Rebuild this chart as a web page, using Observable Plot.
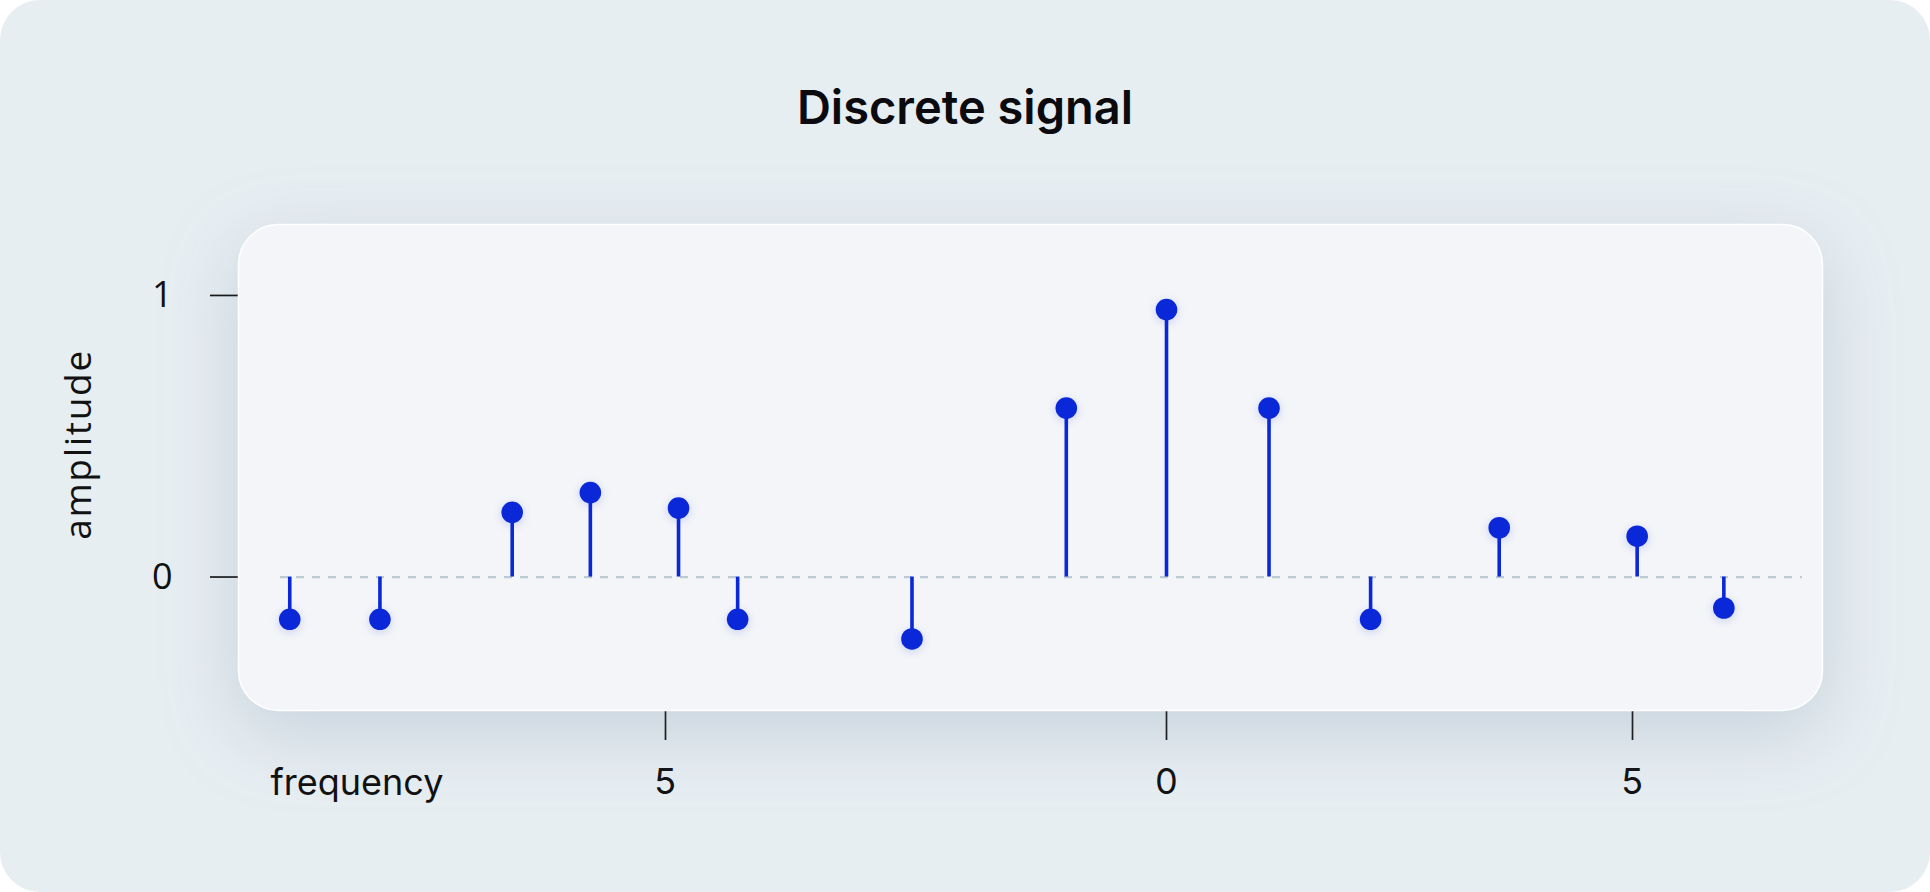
<!DOCTYPE html>
<html>
<head>
<meta charset="utf-8">
<script src="https://cdn.jsdelivr.net/npm/d3@7"></script>
<script src="https://cdn.jsdelivr.net/npm/@observablehq/plot@0.6"></script>
<style>
  html, body { margin: 0; padding: 0; background: #ffffff; }
  #card {
    position: relative; width: 1930px; height: 892px; border-radius: 40px;
    background: #e7eef2; overflow: hidden;
  }
  #title {
    position: absolute; left: 0; top: 83px; width: 1930px; text-align: center;
    font-family: Inter, sans-serif; font-weight: 600; font-size: 47px; line-height: 47px; color: #0b0b0f;
  }
  #chart { position: absolute; left: 0; top: 0; }
  #chart svg text { fill: #111; }
  #chart [aria-label^="x-axis"] text { font-family: Inter, sans-serif; font-size: 36px; }
  #chart [aria-label^="y-axis"] text { font-family: "Open Sans", sans-serif; font-size: 36px; }
</style>
</head>
<body>
<div id="card">
  <div id="title">Discrete signal</div>
  <div id="chart"></div>
</div>
<script>
// data
const frequency = [-8.75, -7.85, -6.53, -5.75, -4.87, -4.28, -2.54, -1.0, 0, 1.1, 2.19, 3.57, 5.05, 5.98];
const amplitude = [-0.15, -0.15, 0.23, 0.30, 0.245, -0.15, -0.22, 0.60, 0.95, 0.60, -0.15, 0.175, 0.145, -0.11];
const xTicks = [-5, 0, 5];
const xTickLabels = ["5", "0", "5"];
const yTicks = [0, 1];
const yTickLabels = ["0", "1"];

const data = frequency.map((f, i) => ({frequency: f, amplitude: amplitude[i]}));

const plot = Plot.plot({
  width: 1930,
  height: 892,
  marginLeft: 238,
  marginRight: 108,
  marginTop: 224,
  marginBottom: 182,
  style: {background: "transparent", fontFamily: "Inter, sans-serif", fontSize: "36px", overflow: "visible"},
  x: {
    type: "linear",
    domain: [-5, 0, 5],
    range: [665, 1166, 1632],
    ticks: xTicks,
    tickFormat: d => xTickLabels[xTicks.indexOf(d)],
    tickSize: 30,
    tickPadding: 28,
    label: null
  },
  y: {
    domain: [-0.474, 1.252],
    ticks: yTicks,
    tickFormat: d => yTickLabels[yTicks.indexOf(d)],
    tickSize: 28,
    tickPadding: 38,
    label: null
  },
  marks: [
    Plot.frame({fill: "#f3f5f8", stroke: "#ffffff", strokeWidth: 1.5, rx: 40, ry: 40}),
    Plot.ruleY([0], {stroke: "#bccad2", strokeWidth: 2.2, strokeDasharray: "8,8", insetLeft: 42, insetRight: 20}),
    Plot.ruleX(data, {x: "frequency", y1: 0, y2: "amplitude", stroke: "#0a28d8", strokeWidth: 3.6}),
    Plot.dot(data, {x: "frequency", y: "amplitude", r: 10.8, fill: "#0a28d8", stroke: "none"}),
    Plot.text(["amplitude"], {frameAnchor: "left", text: d => d, rotate: -90, dx: -159, dy: -23,
      textAnchor: "middle", lineAnchor: "middle", fontFamily: "Open Sans", fontSize: 37}),
    Plot.text(["frequency"], {frameAnchor: "bottom-left", text: d => d, dx: 32, dy: 84,
      textAnchor: "start", lineAnchor: "bottom", fontFamily: "Inter", fontSize: 36})
  ]
});

document.getElementById("chart").appendChild(plot);

const svg = d3.select(plot);
svg.selectAll("rect").filter(function() {
    const g = this.parentNode;
    return g && g.getAttribute && (g.getAttribute("aria-label") === "frame" || this.getAttribute("aria-label") === "frame");
  })
  .attr("rx", 40).attr("ry", 40)
  .style("filter", "drop-shadow(0px 22px 36px rgba(110,130,160,0.26))");
svg.selectAll('[aria-label="frame"]').filter(function() { return this.tagName === "rect"; })
  .attr("rx", 40).attr("ry", 40)
  .style("filter", "drop-shadow(0px 22px 36px rgba(110,130,160,0.26))");
svg.selectAll("circle").each(function() {
  d3.select(this.parentNode).style("filter", "drop-shadow(0px 2px 4px rgba(10,40,216,0.18))");
});
svg.selectAll("text").filter(function() { return this.textContent === "amplitude"; })
  .style("letter-spacing", "1.7px");
svg.selectAll('[aria-label^="x-axis"], [aria-label^="y-axis"]').selectAll("path, line").attr("stroke", "#111").attr("stroke-width", 1.7);
</script>
</body>
</html>
